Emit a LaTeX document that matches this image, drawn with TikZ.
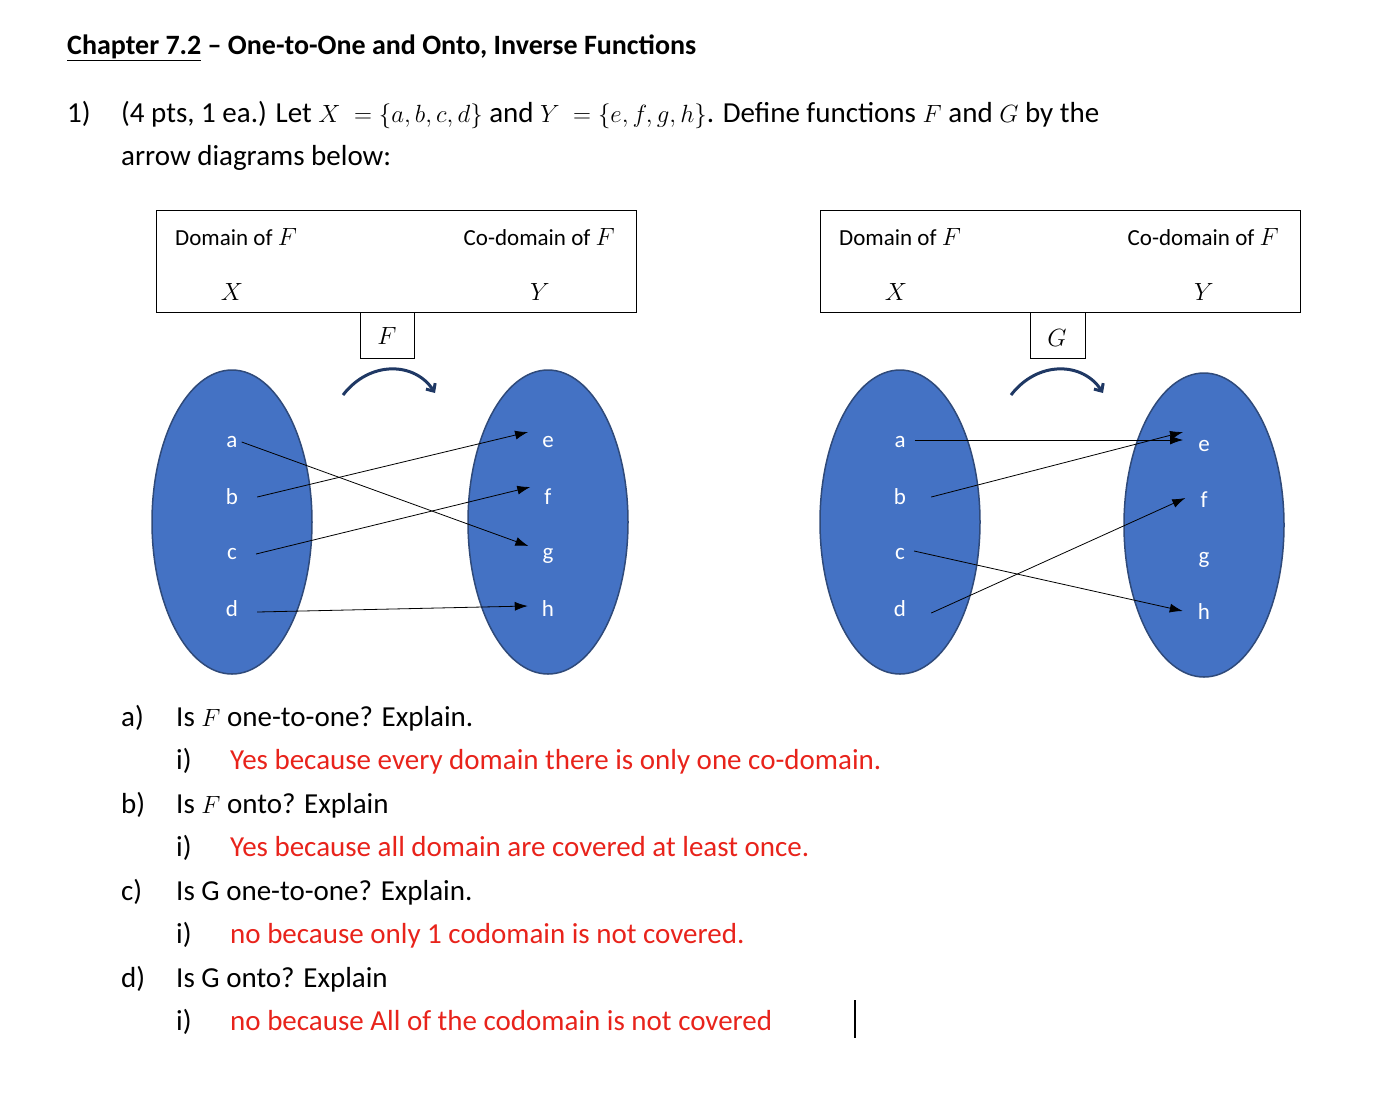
\documentclass[tikz,border=0pt]{standalone}
\usepackage{fontspec}
\setmainfont{Carlito}
\usetikzlibrary{arrows.meta}
\definecolor{ellfill}{HTML}{4472C4}
\definecolor{elldraw}{HTML}{2F4A7A}
\definecolor{ans}{HTML}{E8231B}
\definecolor{curv}{HTML}{1F3864}
\tikzset{
 body/.style={anchor=base west,inner sep=0,font=\fontsize{29}{34}\selectfont},
 lab/.style={font=\fontsize{23}{27}\selectfont,inner sep=0},
 ell/.style={ellipse-ish},
 set/.style={fill=ellfill,draw=elldraw,line width=1.5pt},
 box/.style={draw=black,line width=0.8pt},
 pt/.style={text=white,font=\fontsize{23}{27}\selectfont,inner sep=1pt},
 arr/.style={-{Latex[length=13pt,width=9pt]},line width=0.8pt},
 curved/.style={-{Straight Barb[length=6pt,width=11pt]},line width=3pt,draw=curv},
 ansstyle/.style={body,text=ans},
 ellipse-ish/.style={}
}
\begin{document}
\begin{tikzpicture}[x=1pt,y=-1pt]
\useasboundingbox (0,0) rectangle (1374,1096);
% title
\node[body,font=\fontsize{28}{34}\selectfont\bfseries] (title) at (67,54) {\underline{Chapter 7.2} -- One-to-One and Onto, Inverse Functions};
\node[body] (q1) at (67,122) {1)};
\node[body] (q1t) at (121,122) {(4 pts, 1 ea.) Let $X\ =\{a,b,c,d\}$ and $Y\ =\{e,f,g,h\}$. Define functions $F$ and $G$ by the};
\node[body] (q1u) at (121,165) {arrow diagrams below:};
% boxes
\foreach \x/\n/\fn in {0/L/F,664/R/G}{
 \begin{scope}[xshift=\x]
 \draw[box] (156,210) rectangle (636,312);
 \node[lab,anchor=base west] at (175,245) {Domain of $F$};
 \node[lab,anchor=base east] at (615,245) {Co-domain of $F$};
 \node[lab] at (232,292) {$X$};
 \node[lab] at (540,292) {$Y$};
 \end{scope}}
\draw[box] (360,312) rectangle (414,358);
\node[lab] (Flab) at (387,336) {$F$};
\draw[box] (1030,312) rectangle (1085,358);
\node[lab] (Glab) at (1057,338) {$G$};
% curved arrows
\draw[curved] (343,395) .. controls (370,360) and (415,362) .. (435,393);
\draw[curved] (1011,395) .. controls (1038,360) and (1083,362) .. (1103,393);
% ellipses
\draw[set] (232,522) ellipse [x radius=80,y radius=152];
\draw[set] (548,522) ellipse [x radius=80,y radius=152];
\draw[set] (900,522) ellipse [x radius=80,y radius=152];
\draw[set] (1204,525) ellipse [x radius=80,y radius=152];
% F points
\node[pt] (Fa) at (232,442) {a};
\node[pt] (Fb) at (232,497) {b};
\node[pt] (Fc) at (232,554) {c};
\node[pt] (Fd) at (232,609) {d};
\node[pt] (Fe) at (548,442) {e};
\node[pt] (Ff) at (548,497) {f};
\node[pt] (Fg) at (548,556) {g};
\node[pt] (Fh) at (548,609) {h};
\draw[arr] ([xshift=3pt]Fa.east) -- ([xshift=-13pt,yshift=10pt]Fg.west);
\draw[arr] ([xshift=18pt]Fb.east) -- ([xshift=-13pt,yshift=10pt]Fe.west);
\draw[arr] ([xshift=18pt]Fc.east) -- ([xshift=-13pt,yshift=10pt]Ff.west);
\draw[arr] ([xshift=18pt,yshift=-3pt]Fd.east) -- ([xshift=-13pt,yshift=3pt]Fh.west);
% G points
\node[pt] (Ga) at (900,442) {a};
\node[pt] (Gb) at (900,497) {b};
\node[pt] (Gc) at (900,554) {c};
\node[pt] (Gd) at (900,609) {d};
\node[pt] (Ge) at (1204,446) {e};
\node[pt] (Gf) at (1204,500) {f};
\node[pt] (Gg) at (1204,560) {g};
\node[pt] (Gh) at (1204,612) {h};
\draw[arr] ([xshift=8pt,yshift=2pt]Ga.east) -- ([xshift=-14pt,yshift=6pt]Ge.west);
\draw[arr] ([xshift=24pt]Gb.east) -- ([xshift=-14pt,yshift=14pt]Ge.west);
\draw[arr] ([xshift=8pt,yshift=3pt]Gc.east) -- ([xshift=-14pt,yshift=1pt]Gh.west);
\draw[arr] ([xshift=24pt,yshift=-4pt]Gd.east) -- ([xshift=-14pt,yshift=2pt]Gf.west);
% questions
\node[body] (qa) at (121,726) {a)};
\node[body] (qat) at (176,726) {Is $F$ one-to-one? Explain.};
\node[body] (ai) at (176,769) {i)};
\node[ansstyle] (ait) at (230,769) {Yes because every domain there is only one co-domain.};
\node[body] (qb) at (121,813) {b)};
\node[body] (qbt) at (176,813) {Is $F$ onto? Explain};
\node[body] (bi) at (176,856) {i)};
\node[ansstyle] (bit) at (230,856) {Yes because all domain are covered at least once.};
\node[body] (qc) at (121,900) {c)};
\node[body] (qct) at (176,900) {Is G one-to-one? Explain.};
\node[body] (ci) at (176,943) {i)};
\node[ansstyle] (cit) at (230,943) {no because only 1 codomain is not covered.};
\node[body] (qd) at (121,987) {d)};
\node[body] (qdt) at (176,987) {Is G onto? Explain};
\node[body] (di) at (176,1030) {i)};
\node[ansstyle] (dit) at (230,1030) {no because All of the codomain is not covered};
\draw[line width=2.5pt] (855,1000) -- (855,1038);
\end{tikzpicture}
\end{document}
